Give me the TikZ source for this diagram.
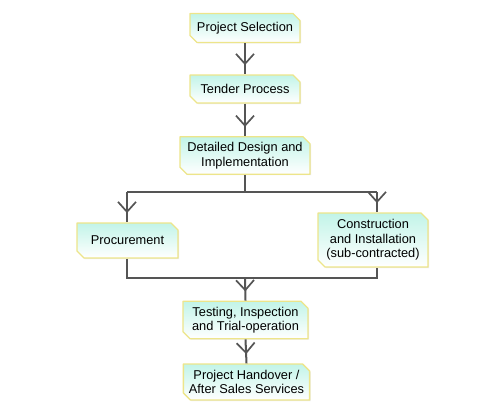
\documentclass[tikz,border=0pt]{standalone}
\usepackage{fontspec}
\setmainfont{Liberation Sans}
\usetikzlibrary{shapes.misc,decorations.markings,calc,shadows}
\definecolor{boxline}{HTML}{EDE58A}
\definecolor{boxtop}{HTML}{C2F4E8}
\definecolor{conn}{HTML}{555555}
\tikzset{
  stagebox/.style={chamfered rectangle, chamfered rectangle corners={north east,south west},
    chamfered rectangle xsep=3.5pt, chamfered rectangle ysep=3.5pt,
    draw=boxline, line width=1.3pt, line join=round, top color=boxtop, bottom color=white,
    drop shadow={shadow xshift=1pt, shadow yshift=-1pt, opacity=0.18},
    align=center, inner sep=2pt, font=\fontsize{12.8}{14.5}\selectfont, text=black},
  link/.style={draw=conn, line width=2pt},
  linkvee/.style={draw=conn, line width=2pt, postaction={decorate},
    decoration={markings, mark=at position -10.5pt with {\draw[conn, line width=1.7pt, line join=miter] (-10pt,9pt) -- (0pt,0pt) -- (-10pt,-9pt);}}},
}
\begin{document}
\begin{tikzpicture}[x=1pt,y=-1pt]
\useasboundingbox (0,0) rectangle (500,404);
\node[stagebox, minimum width=110, minimum height=29] (ps) at (245,28) {Project Selection};
\node[stagebox, minimum width=110, minimum height=28] (tp) at (245,89) {Tender Process};
\node[stagebox, minimum width=130, minimum height=35] (dd) at (245,155.5) {Detailed Design and\\Implementation};
\node[stagebox, minimum width=101, minimum height=35] (pr) at (127.5,240.5) {Procurement};
\node[stagebox, minimum width=110, minimum height=54] (ci) at (373,240) {Construction\\and Installation\\(sub-contracted)};
\node[stagebox, minimum width=125, minimum height=36] (te) at (245.5,320) {Testing, Inspection\\and Trial-operation};
\node[stagebox, minimum width=123, minimum height=36] (ho) at (246.5,382) {Project Handover /\\After Sales Services};
\coordinate (split) at (245,192);
\coordinate (sl) at (127,192);
\coordinate (sr) at (377,192);
\coordinate (jl) at (127,278);
\coordinate (jr) at (377,278);
\coordinate (join) at (245,278);
\path[linkvee] (ps.south) -- (tp.north);
\path[linkvee] (tp.south) -- (dd.north);
\path[link] (dd.south) -- (split);
\path[link] (sl) -- (sr);
\path[linkvee] (sl) -- (sl |- pr.north);
\path[linkvee] (sr) -- (sr |- ci.north);
\path[link] (pr.south -| jl) -- (jl) -- (jr) -- (ci.south -| jr);
\path[linkvee] (join) -- (te.north);
\path[linkvee] (te.south) -- (ho.north);
\end{tikzpicture}
\end{document}
